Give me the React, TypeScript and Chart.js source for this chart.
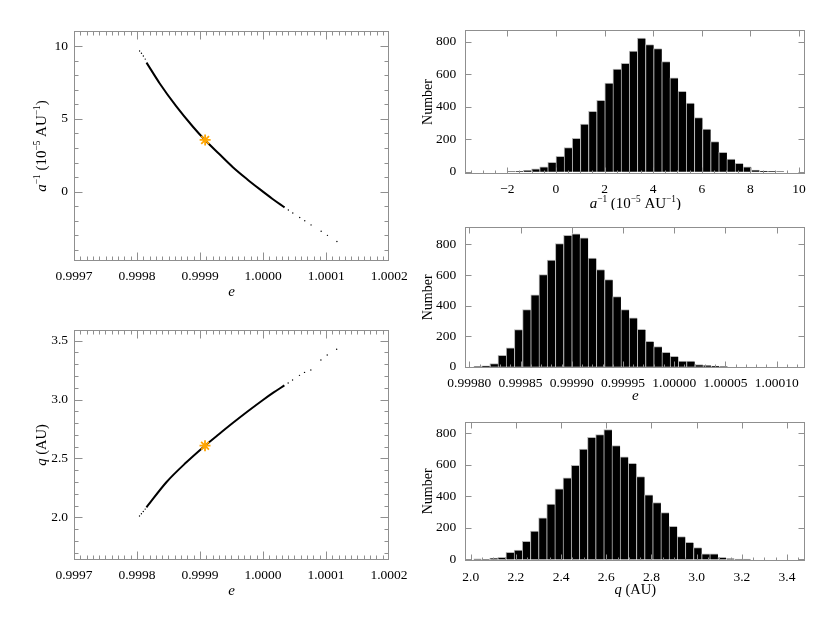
import React, { useEffect, useRef } from 'react';
import { Chart, registerables } from 'chart.js';

Chart.register(...registerables);

// ---------------- data ----------------
// scatter panels (e vs 1/a, e vs q)
const SC_X_MAJOR = [0.9997, 0.9998, 0.9999, 1.0, 1.0001, 1.0002];
const SC_X_LABELS = ['0.9997', '0.9998', '0.9999', '1.0000', '1.0001', '1.0002'];
const A_Y_MAJOR = [0, 5, 10];
const A_Y_LABELS = ['0', '5', '10'];
const Q_Y_MAJOR = [2.0, 2.5, 3.0, 3.5];
const Q_Y_LABELS = ['2.0', '2.5', '3.0', '3.5'];

const CURVE_E = [0.999815, 0.999836, 0.999862, 0.999889, 0.999907, 0.99993, 0.999952, 0.999975, 0.999994, 1.000015, 1.000034];
const CURVE_A = [8.86, 7.43, 5.87, 4.44, 3.58, 2.6, 1.68, 0.84, 0.19, -0.5, -1.08];
const QCURVE_E = [0.999815, 0.999847, 0.999878, 0.999908, 0.99993, 0.999952, 0.999976, 1.0, 1.000017, 1.000034];
const QCURVE_Q = [2.085, 2.3, 2.465, 2.608, 2.705, 2.8, 2.9, 2.996, 3.06, 3.12];

const SPARSE_E = [0.999804, 0.999807, 0.99981, 0.999813, 1.00004, 1.000047, 1.000058, 1.000066, 1.000076, 1.000092, 1.000102, 1.000117];
const SPARSE_A = [9.66, 9.5, 9.31, 9.1, -1.26, -1.46, -1.77, -2.0, -2.28, -2.72, -3.0, -3.42];
const SPARSE_Q = [2.011, 2.03, 2.05, 2.07, 3.14, 3.166, 3.205, 3.23, 3.25, 3.335, 3.378, 3.426];

const BEST_E = 0.999908;
const BEST_A = 3.55;
const BEST_Q = 2.608;

// histograms
const HIST_Y_MAJOR = [0, 200, 400, 600, 800];
const HIST_Y_LABELS = ['0', '200', '400', '600', '800'];

const A_HX_MAJOR = [-2, 0, 2, 4, 6, 8, 10];
const A_HX_LABELS = ['\u22122', '0', '2', '4', '6', '8', '10'];
const A_BINS = [-1.843, -1.508, -1.173, -0.838, -0.503, -0.168, 0.168, 0.503, 0.838, 1.173, 1.508, 1.843, 2.178, 2.513, 2.848, 3.183, 3.518, 3.853, 4.188, 4.523, 4.858, 5.193, 5.528, 5.863, 6.198, 6.533, 6.868, 7.203, 7.538, 7.873, 8.208, 8.543, 8.878, 9.213];
const A_COUNTS = [1, 3, 8, 18, 30, 58, 95, 148, 205, 293, 372, 440, 545, 632, 667, 742, 822, 782, 757, 677, 578, 495, 422, 333, 262, 185, 120, 78, 52, 30, 10, 4, 2, 1];

const E_HX_MAJOR = [0.9998, 0.99985, 0.9999, 0.99995, 1.0, 1.00005, 1.0001];
const E_HX_LABELS = ['0.99980', '0.99985', '0.99990', '0.99995', '1.00000', '1.00005', '1.00010'];
const E_BINS = [0.999808, 0.999816, 0.999824, 0.999832, 0.99984, 0.999848, 0.999856, 0.999864, 0.999872, 0.99988, 0.999888, 0.999896, 0.999904, 0.999912, 0.99992, 0.999928, 0.999936, 0.999944, 0.999952, 0.99996, 0.999968, 0.999976, 0.999984, 0.999992, 1.0, 1.000008, 1.000016, 1.000024, 1.000032, 1.00004, 1.000048];
const E_COUNTS = [2, 6, 21, 75, 124, 243, 374, 470, 602, 698, 805, 860, 869, 843, 710, 636, 570, 459, 374, 320, 245, 166, 132, 95, 68, 38, 38, 15, 10, 5, 2];

const Q_HX_MAJOR = [2.0, 2.2, 2.4, 2.6, 2.8, 3.0, 3.2, 3.4];
const Q_HX_LABELS = ['2.0', '2.2', '2.4', '2.6', '2.8', '3.0', '3.2', '3.4'];
const Q_BINS = [2.0296, 2.0657, 2.1018, 2.1379, 2.174, 2.2101, 2.2462, 2.2823, 2.3184, 2.3545, 2.3906, 2.4267, 2.4628, 2.4989, 2.535, 2.5711, 2.6072, 2.6433, 2.6794, 2.7155, 2.7516, 2.7877, 2.8238, 2.8599, 2.896, 2.9321, 2.9682, 3.0043, 3.0404, 3.0765, 3.1126, 3.1487, 3.1848, 3.2209];
const Q_COUNTS = [3, 1, 8, 14, 45, 59, 115, 180, 263, 350, 447, 517, 596, 699, 772, 790, 822, 721, 649, 608, 524, 409, 360, 296, 209, 144, 108, 75, 35, 35, 14, 6, 2, 2];

// ---------------- styling helpers ----------------
const SERIF = '"Liberation Serif", "Times New Roman", serif';
const TICK_FONT = { family: SERIF, size: 13.5 };
const FRAME_COLOR = '#8f8f8f';
const ORANGE = '#ffa500';

type Seg = { t: string; it?: boolean; sup?: boolean };
const A_TITLE: Seg[] = [{ t: 'a', it: true }, { t: '\u22121', sup: true }, { t: ' (10' }, { t: '\u22125', sup: true }, { t: ' AU' }, { t: '\u22121', sup: true }, { t: ')' }];
const E_TITLE: Seg[] = [{ t: 'e', it: true }];
const Q_TITLE: Seg[] = [{ t: 'q', it: true }, { t: ' (AU)' }];
const N_TITLE: Seg[] = [{ t: 'Number' }];

function steps(start: number, step: number, n: number): number[] {
  const out: number[] = [];
  for (let i = 0; i <= n; i++) out.push(start + i * step);
  return out;
}

function drawRich(ctx: CanvasRenderingContext2D, segs: Seg[], cx: number, cy: number, size: number, vertical: boolean) {
  ctx.save();
  ctx.translate(cx, cy);
  if (vertical) ctx.rotate(-Math.PI / 2);
  const fonts = segs.map((s) => `${s.it ? 'italic ' : ''}${s.sup ? size * 0.62 : size}px ${SERIF}`);
  let total = 0;
  segs.forEach((s, i) => {
    ctx.font = fonts[i];
    total += ctx.measureText(s.t).width;
  });
  let x = -total / 2;
  ctx.textBaseline = 'alphabetic';
  ctx.textAlign = 'left';
  ctx.fillStyle = '#000';
  segs.forEach((s, i) => {
    ctx.font = fonts[i];
    ctx.fillText(s.t, x, s.sup ? -size * 0.36 : 0);
    x += ctx.measureText(s.t).width;
  });
  ctx.restore();
}

type FrameCfg = {
  xMajor: number[];
  xMinor: number[];
  yMajor: number[];
  yMinor: number[];
  majLen: number;
  minLen: number;
  xMinorTop: boolean;
  xTitle: Seg[];
  xTitleY: number;
  yTitle: Seg[];
  yTitleX: number;
  yTitleSize: number;
  xTitleSize: number;
};

function framePlugin(cfg: FrameCfg) {
  return {
    id: 'frameTicks',
    afterDatasetsDraw(chart: any) {
      const { ctx, chartArea: a, scales } = chart;
      const xs = scales.x;
      const ys = scales.y;
      const L = Math.round(a.left) + 0.5;
      const R = Math.round(a.right) - 0.5;
      const T = Math.round(a.top) + 0.5;
      const B = Math.round(a.bottom) - 0.5;
      ctx.save();
      ctx.strokeStyle = FRAME_COLOR;
      ctx.lineWidth = 1;
      ctx.strokeRect(L, T, R - L, B - T);
      ctx.beginPath();
      const xt = (vals: number[], len: number, top: boolean) => {
        vals.forEach((v) => {
          const p = Math.round(xs.getPixelForValue(v)) + 0.5;
          if (p < L - 0.6 || p > R + 0.6) return;
          ctx.moveTo(p, B);
          ctx.lineTo(p, B - len);
          if (top) {
            ctx.moveTo(p, T);
            ctx.lineTo(p, T + len);
          }
        });
      };
      const yt = (vals: number[], len: number) => {
        vals.forEach((v) => {
          const p = Math.round(ys.getPixelForValue(v)) + 0.5;
          if (p < T - 0.6 || p > B + 0.6) return;
          ctx.moveTo(L, p);
          ctx.lineTo(L + len, p);
          ctx.moveTo(R, p);
          ctx.lineTo(R - len, p);
        });
      };
      xt(cfg.xMajor, cfg.majLen, true);
      xt(cfg.xMinor, cfg.minLen, cfg.xMinorTop);
      yt(cfg.yMajor, cfg.majLen);
      yt(cfg.yMinor, cfg.minLen);
      ctx.stroke();
      const cx = (a.left + a.right) / 2;
      const cy = (a.top + a.bottom) / 2;
      drawRich(ctx, cfg.xTitle, cx, cfg.xTitleY, cfg.xTitleSize, false);
      drawRich(ctx, cfg.yTitle, cfg.yTitleX, cy, cfg.yTitleSize, true);
      ctx.restore();
    },
  };
}

function axis(min: number, max: number, major: number[], labels: string[], pad: number, w: number | null, h: number | null) {
  return {
    type: 'linear',
    min,
    max,
    bounds: 'data',
    offset: false,
    grid: { display: false, drawTicks: false },
    border: { display: false },
    afterBuildTicks: (s: any) => {
      s.ticks = major.map((v) => ({ value: v }));
    },
    afterFit: (s: any) => {
      if (w != null) s.width = w;
      if (h != null) s.height = h;
    },
    ticks: {
      autoSkip: false,
      maxRotation: 0,
      minRotation: 0,
      padding: pad,
      color: '#000',
      font: TICK_FONT,
      callback: (_v: any, i: number) => labels[i],
    },
  };
}

const basePlugins = { legend: { display: false }, tooltip: { enabled: false }, title: { display: false } };

function scatterConfig(yCurveE: number[], yCurve: number[], sparse: number[], best: number,
  yMin: number, yMax: number, yMajor: number[], yLabels: string[], yMinor: number[],
  padTop: number, xH: number, xPad: number, yTitle: Seg[], xTitleY: number, yTitleSize: number) {
  return {
    type: 'scatter',
    data: {
      datasets: [
        {
          data: [{ x: BEST_E, y: best }],
          pointStyle: 'star',
          pointRadius: 5.5,
          borderColor: ORANGE,
          backgroundColor: ORANGE,
          borderWidth: 1.8,
        },
        {
          data: yCurveE.map((x, i) => ({ x, y: yCurve[i] })),
          showLine: true,
          borderColor: '#000',
          borderWidth: 2,
          cubicInterpolationMode: 'monotone',
          pointRadius: 0,
        },
        {
          data: SPARSE_E.map((x, i) => ({ x, y: sparse[i] })),
          pointRadius: 0.7,
          borderWidth: 0,
          backgroundColor: '#000',
        },
      ],
    },
    options: {
      responsive: false,
      maintainAspectRatio: false,
      animation: false,
      events: [],
      layout: { padding: { top: padTop, right: 25, left: 0, bottom: 0 } },
      plugins: basePlugins,
      scales: {
        x: axis(0.9997, 1.0002, SC_X_MAJOR, SC_X_LABELS, xPad, null, xH),
        y: axis(yMin, yMax, yMajor, yLabels, 6, 74, null),
      },
    },
    plugins: [
      framePlugin({
        xMajor: SC_X_MAJOR,
        xMinor: steps(0.9997, 0.00001, 50),
        yMajor,
        yMinor,
        majLen: 8,
        minLen: 4,
        xMinorTop: true,
        xTitle: E_TITLE,
        xTitleY,
        yTitle,
        yTitleX: 45.5,
        yTitleSize,
        xTitleSize: 15,
      }),
    ],
  };
}

function histConfig(bins: number[], counts: number[], xMin: number, xMax: number, xMajor: number[], xLabels: string[], xMinor: number[],
  yMin: number, yMax: number, padTop: number, xH: number, xPad: number, xTitle: Seg[], xTitleY: number, xTitleSize: number) {
  return {
    type: 'bar',
    data: {
      datasets: [
        {
          data: bins.map((x, i) => ({ x, y: counts[i] })),
          backgroundColor: '#000',
          borderColor: '#b4b4b4',
          borderWidth: { top: 1, left: 1, right: 0, bottom: 0 },
          borderSkipped: 'start',
          barPercentage: 1,
          categoryPercentage: 1,
        },
      ],
    },
    options: {
      responsive: false,
      maintainAspectRatio: false,
      animation: false,
      events: [],
      layout: { padding: { top: padTop, right: 24.7, left: 0, bottom: 0 } },
      plugins: basePlugins,
      scales: {
        x: axis(xMin, xMax, xMajor, xLabels, xPad, null, xH),
        y: axis(yMin, yMax, HIST_Y_MAJOR, HIST_Y_LABELS, 9, 50.3, null),
      },
    },
    plugins: [
      framePlugin({
        xMajor,
        xMinor,
        yMajor: HIST_Y_MAJOR,
        yMinor: [],
        majLen: 6,
        minLen: 3,
        xMinorTop: false,
        xTitle,
        xTitleY,
        yTitle: N_TITLE,
        yTitleX: 16.7,
        yTitleSize: 14,
        xTitleSize,
      }),
    ],
  };
}

function Panel({ left, top, width, height, make }: { left: number; top: number; width: number; height: number; make: () => any }) {
  const ref = useRef<HTMLCanvasElement | null>(null);
  useEffect(() => {
    if (!ref.current) return;
    const chart = new Chart(ref.current, make());
    return () => chart.destroy();
  }, []);
  return (
    <canvas
      ref={ref}
      width={width}
      height={height}
      style={{ position: 'absolute', left, top, width, height, display: 'block' }}
    />
  );
}

export default function App() {
  return (
    <div style={{ position: 'absolute', left: 0, top: 0, width: 830, height: 623, background: '#fff', overflow: 'hidden' }}>
      <Panel
        left={0}
        top={0}
        width={415}
        height={310}
        make={() =>
          scatterConfig(CURVE_E, CURVE_A, SPARSE_A, BEST_A, -4.76, 11.03, A_Y_MAJOR, A_Y_LABELS, steps(-4, 1, 15),
            31, 49, 7.2, A_TITLE, 296, 15)
        }
      />
      <Panel
        left={0}
        top={310}
        width={415}
        height={313}
        make={() =>
          scatterConfig(QCURVE_E, QCURVE_Q, SPARSE_Q, BEST_Q, 1.638, 3.59, Q_Y_MAJOR, Q_Y_LABELS, steps(1.7, 0.1, 18),
            20, 63, 7.5, Q_TITLE, 285.3, 14.5)
        }
      />
      <Panel
        left={415}
        top={0}
        width={415}
        height={210}
        make={() =>
          histConfig(A_BINS, A_COUNTS, -3.73, 10.26, A_HX_MAJOR, A_HX_LABELS, steps(-3.5, 0.5, 27), -14, 872, 30, 36, 7.6, A_TITLE, 207.5, 15)
        }
      />
      <Panel
        left={415}
        top={210}
        width={415}
        height={195}
        make={() =>
          histConfig(E_BINS, E_COUNTS, 0.9997961, 1.0001279, E_HX_MAJOR, E_HX_LABELS, steps(0.9998, 0.00001, 33), -6, 913, 14, 37.3, 7.8, E_TITLE, 190.3, 15)
        }
      />
      <Panel
        left={415}
        top={405}
        width={415}
        height={218}
        make={() =>
          histConfig(Q_BINS, Q_COUNTS, 1.976, 3.481, Q_HX_MAJOR, Q_HX_LABELS, steps(2.0, 0.05, 29), -8, 869, 11.7, 62.3, 9, Q_TITLE, 189, 14.5)
        }
      />
    </div>
  );
}
